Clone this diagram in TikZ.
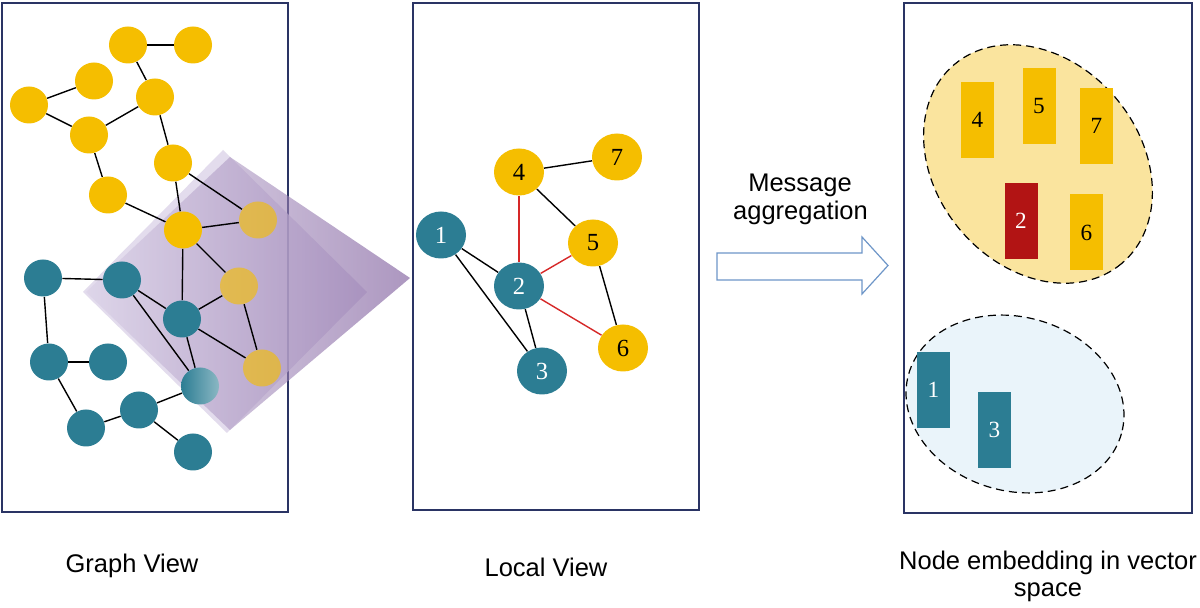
\documentclass[tikz,border=0pt]{standalone}
\usepackage{fontspec}
\setmainfont{Liberation Serif}
\newfontfamily\lsans{Liberation Sans}
\usetikzlibrary{shapes.geometric}
\definecolor{gold}{RGB}{245,190,0}
\definecolor{tealc}{RGB}{44,125,147}
\definecolor{framec}{RGB}{42,52,100}
\definecolor{redbar}{RGB}{178,20,20}
\definecolor{rededge}{RGB}{214,40,40}
\definecolor{lightgold}{RGB}{250,228,158}
\definecolor{lightblue}{RGB}{234,244,250}
\definecolor{lav}{RGB}{218,209,231}
\definecolor{lavdark}{RGB}{118,82,150}
\definecolor{arrowblue}{RGB}{110,150,200}
\pgfdeclarelayer{back}
\pgfdeclarelayer{edgelayer}
\pgfsetlayers{back,edgelayer,main}
\begin{document}
\begin{tikzpicture}[x=0.5pt,y=-0.5pt,
  panel/.style={draw=framec, line width=0.75pt},
  gnode/.style={ellipse, minimum width=19pt, minimum height=18.5pt, inner sep=0pt},
  ynode/.style={gnode, fill=gold},
  tnode/.style={gnode, fill=tealc},
  fnode/.style={gnode, fill=gold, fill opacity=0.62},
  gedge/.style={line width=0.7pt, black},
  redge/.style={line width=0.7pt, rededge},
  lnode/.style={ellipse, minimum width=25pt, minimum height=23.5pt, inner sep=0pt, font=\fontsize{12.3}{14}\selectfont},
  lyel/.style={lnode, fill=gold, text=black},
  ltea/.style={lnode, fill=tealc, text=white},
  bar/.style={rectangle, minimum width=16.5pt, minimum height=38pt, inner sep=0pt, font=\fontsize{11.6}{13}\selectfont},
  label/.style={font=\lsans\fontsize{12.75}{15}\selectfont, anchor=base, inner sep=0pt},
  cluster/.style={dashed, dash pattern=on 4pt off 2.5pt, line width=0.6pt, black}
]
\useasboundingbox (0,0) rectangle (1200,608);

\begin{pgfonlayer}{back}
  \fill[white] (0,0) rectangle (1200,608);
  \draw[panel] (2,3) rectangle (288,512);
  \draw[panel] (413,3) rectangle (699,510);
  \draw[panel] (904,3) rectangle (1192,513);
  % purple focus shape
  \fill[lav, opacity=0.75]
    (83,292) -- (223,150) -- (367,292) -- (227,433) -- cycle;
  \shade[left color=lav, middle color=lav, right color=lavdark, opacity=0.6]
    (86,292) -- (230,157) -- (410,278) -- (230,430) -- cycle;
\end{pgfonlayer}

% ---------- Graph view ----------
\node[ynode] (y1) at (128,45) {};
\node[ynode] (y2) at (193,45) {};
\node[ynode] (y3) at (94,81) {};
\node[ynode] (y4) at (29,105) {};
\node[ynode] (y5) at (155,97) {};
\node[ynode] (y6) at (89,135) {};
\node[ynode] (y7) at (173,163) {};
\node[ynode] (y8) at (108,195) {};
\node[ynode] (y9) at (183,230) {};
\node[fnode] (f1) at (258,220) {};
\node[fnode] (f2) at (239,286) {};
\node[fnode] (f3) at (262,368) {};
\node[tnode] (t1) at (43,278) {};
\node[tnode] (t2) at (122,280) {};
\node[tnode] (t3) at (182,319) {};
\node[tnode] (t4) at (49,362) {};
\node[tnode] (t5) at (108,362) {};
\node[gnode, left color=tealc, middle color=tealc, right color=tealc!55!white] (t6) at (200,386) {};
\node[tnode] (t7) at (139,410) {};
\node[tnode] (t8) at (86,428) {};
\node[tnode] (t9) at (193,452) {};

\begin{pgfonlayer}{edgelayer}
  \draw[gedge] (y1) -- (y2);
  \draw[gedge] (y1) -- (y5);
  \draw[gedge] (y3) -- (y4);
  \draw[gedge] (y4) -- (y6);
  \draw[gedge] (y6) -- (y5);
  \draw[gedge] (y5) -- (y7);
  \draw[gedge] (y6) -- (y8);
  \draw[gedge] (y8) -- (y9);
  \draw[gedge] (y7) -- (y9);
  \draw[gedge] (y7) -- (f1);
  \draw[gedge] (y9) -- (f1);
  \draw[gedge] (y9) -- (f2);
  \draw[gedge] (y9) -- (t3);
  \draw[gedge] (f2) -- (t3);
  \draw[gedge] (f2) -- (f3);
  \draw[gedge] (t3) -- (f3);
  \draw[gedge] (t1) -- (t2);
  \draw[gedge] (t1) -- (t4);
  \draw[gedge] (t2) -- (t3);
  \draw[gedge] (t2) -- (t6);
  \draw[gedge] (t3) -- (t6);
  \draw[gedge] (t4) -- (t5);
  \draw[gedge] (t4) -- (t8);
  \draw[gedge] (t8) -- (t7);
  \draw[gedge] (t7) -- (t6);
  \draw[gedge] (t7) -- (t9);
\end{pgfonlayer}

% ---------- Local view ----------
\node[ltea] (n1) at (441,235) {1};
\node[ltea] (n2) at (519,286) {2};
\node[ltea] (n3) at (542,371) {3};
\node[lyel] (n4) at (519,172) {4};
\node[lyel] (n5) at (593,243) {5};
\node[lyel] (n6) at (623,348) {6};
\node[lyel] (n7) at (617,157) {7};
\begin{pgfonlayer}{edgelayer}
  \draw[gedge] (n4) -- (n7);
  \draw[gedge] (n4) -- (n5);
  \draw[redge] (n4) -- (n2);
  \draw[redge] (n5) -- (n2);
  \draw[redge] (n2) -- (n6);
  \draw[gedge] (n5) -- (n6);
  \draw[gedge] (n1) -- (n2);
  \draw[gedge] (n1) -- (n3);
  \draw[gedge] (n2) -- (n3);
\end{pgfonlayer}

% ---------- Message aggregation arrow ----------
\node[label] (msg1) at (800,192) {Message};
\node[label] (msg2) at (800.5,220) {aggregation};
\draw[arrowblue, line width=0.6pt, fill=white]
  (717,253) -- (862,253) -- (862,237) -- (888,265.5) -- (862,294) -- (862,280) -- (717,280) -- cycle;

% ---------- Embedding space ----------
\fill[lightgold, rotate around={-50:(1038,164)}] (1038,164) ellipse [x radius=130, y radius=102];
\draw[cluster, rotate around={-50:(1038,164)}] (1038,164) ellipse [x radius=130, y radius=102];
\fill[lightblue, rotate around={-15.6:(1015,404)}] (1015,404) ellipse [x radius=110.5, y radius=87];
\draw[cluster, rotate around={-15.6:(1015,404)}] (1015,404) ellipse [x radius=110.5, y radius=87];

\node[bar, fill=gold] (r4) at (977.5,120) {4};
\node[bar, fill=gold] (r5) at (1039,106.5) {5};
\node[bar, fill=gold] (r7) at (1096.5,126) {7};
\node[bar, fill=redbar, text=white] (r2) at (1021,221) {2};
\node[bar, fill=gold] (r6) at (1086.5,232.5) {6};
\node[bar, fill=tealc, text=white] (r1) at (933.5,390) {1};
\node[bar, fill=tealc, text=white] (r3) at (994.5,430) {3};

% ---------- captions ----------
\node[label] (cap1) at (132,573) {Graph View};
\node[label] (cap2) at (546,577) {Local View};
\node[label] (cap3a) at (1048,570) {Node embedding in vector};
\node[label] (cap3b) at (1048,597) {space};
\end{tikzpicture}
\end{document}
